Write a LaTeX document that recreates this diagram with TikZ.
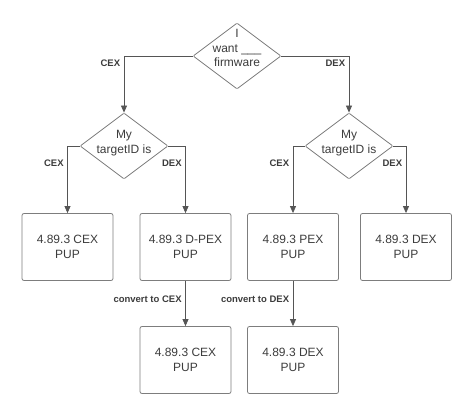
\documentclass[tikz,border=0pt]{standalone}
\usepackage{fontspec}
\setmainfont{Liberation Sans}
\usepackage{xcolor}
\usepackage{tikz}
\usetikzlibrary{positioning,shapes.geometric,arrows.meta}

\definecolor{linegray}{RGB}{85,85,85}
\definecolor{boxgray}{RGB}{125,125,125}
\definecolor{textgray}{RGB}{60,60,60}

\tikzset{
  choice/.style={diamond,draw=boxgray,line width=0.8pt,rounded corners=1pt,
    minimum width=88pt,minimum height=66pt,inner sep=0pt},
  pup/.style={rectangle,draw=boxgray,line width=0.8pt,rounded corners=2pt,
    minimum width=91pt,minimum height=67pt,align=center,text=textgray,
    font=\fontsize{12}{14.5}\selectfont},
  lbl/.style={font=\fontsize{9.5}{11}\selectfont\bfseries,text=textgray,inner sep=3.5pt},
  said/.style={align=center,text=textgray,font=\fontsize{12}{14.5}\selectfont}
}

\begin{document}
\begin{tikzpicture}[>={Triangle[length=7pt,width=6pt]},every node/.style={on grid}]
    \useasboundingbox (0,0) rectangle (474pt,-417pt);
    \node[choice,label={[said,yshift=8pt]center:I\\want \_\_\_\\firmware}] (want) at (237pt,-56pt) {};
    \node[choice,below left=90pt and 113pt of want,label={[said,yshift=3pt]center:My\\targetID is}] (tidL) {};
    \node[choice,below right=90pt and 112pt of want,label={[said,yshift=3pt]center:My\\targetID is}] (tidR) {};
    \node[pup,below left=101pt and 56.5pt of tidL] (cexA) {4.89.3 CEX\\PUP};
    \node[pup,below right=101pt and 61.5pt of tidL] (dpex) {4.89.3 D-PEX\\PUP};
    \node[pup,below left=101pt and 56pt of tidR] (pex) {4.89.3 PEX\\PUP};
    \node[pup,below right=101pt and 57pt of tidR] (dexA) {4.89.3 DEX\\PUP};
    \node[pup,below=113pt of dpex] (cexB) {4.89.3 CEX\\PUP};
    \node[pup,below=113pt of pex] (dexB) {4.89.3 DEX\\PUP};
    \begin{scope}[draw=linegray,line width=0.8pt]
    \draw[->] (want.west) -| node[lbl,below left] {CEX} (tidL.north);
    \draw[->] (want.east) -| node[lbl,below left] {DEX} (tidR.north);
    \draw[->] (tidL.west) -| node[lbl,pos=0.625,left] {CEX} (cexA.north);
    \draw[->] (tidL.east) -| node[lbl,pos=0.625,left] {DEX} (dpex.north);
    \draw[->] (tidR.west) -| node[lbl,pos=0.625,left] {CEX} (pex.north);
    \draw[->] (tidR.east) -| node[lbl,pos=0.625,left] {DEX} (dexA.north);
    \draw[->] (dpex) -- node[lbl,pos=0.4,left] {convert to CEX} (cexB);
    \draw[->] (pex) -- node[lbl,pos=0.4,left] {convert to DEX} (dexB);
    \end{scope}
\end{tikzpicture}
\end{document}
